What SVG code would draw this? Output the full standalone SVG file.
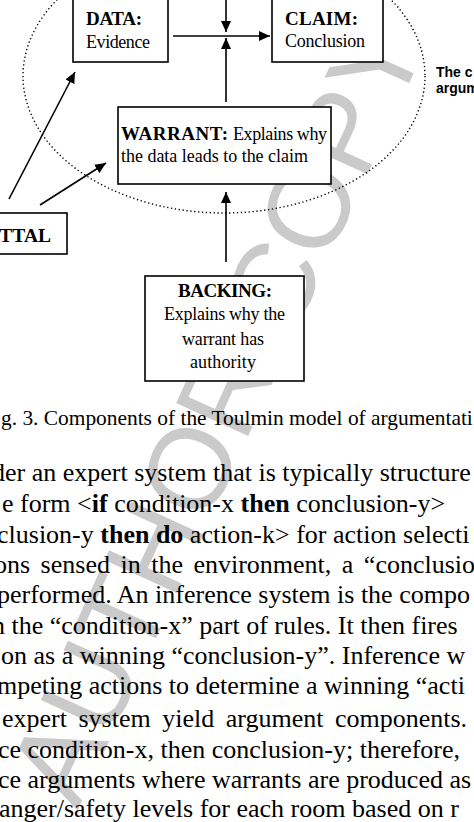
<svg xmlns="http://www.w3.org/2000/svg" width="474" height="822" viewBox="0 0 474 822">
<defs>
<marker id="ah" markerWidth="12" markerHeight="10" refX="11" refY="5" orient="auto" markerUnits="userSpaceOnUse">
<path d="M0,0 L11,5 L0,10 z" fill="#000"/>
</marker>
</defs>
<style>
.box{fill:#fff;stroke:#000;stroke-width:1.6}
.lbl{font-family:"Liberation Serif",serif;font-size:18px;fill:#000}
.b{font-weight:bold;font-size:19px}
.con{stroke:#000;stroke-width:1.6;fill:none}
.body{font-family:"Liberation Serif",serif;font-size:26px;fill:#000}
.cap{font-family:"Liberation Serif",serif;font-size:21.4px;fill:#000}
.side{font-family:"Liberation Sans",Arial,sans-serif;font-size:14px;font-weight:bold;fill:#000}
.wm{font-family:"Liberation Sans",Arial,sans-serif;font-size:115px;fill:#cacaca}
</style>
<rect width="474" height="822" fill="#fff"/>
<g id="watermark">
<text class="wm" text-anchor="middle" transform="translate(215,410) rotate(-65.5)" dy="41">AUTHOR COPY</text>
</g>
<ellipse id="scope" cx="224" cy="76" rx="201" ry="137" fill="none" stroke="#000" stroke-width="1.4" stroke-dasharray="1.3 2.6"/>
<g id="data"><rect class="box" x="73" y="-10" width="95" height="72"/>
<text class="lbl b" x="86" y="25" textLength="56">DATA:</text>
<text class="lbl" x="86" y="48" textLength="64">Evidence</text></g>
<g id="claim"><rect class="box" x="272" y="-10" width="111" height="72"/>
<text class="lbl b" x="285" y="25" textLength="73">CLAIM:</text>
<text class="lbl" x="285" y="47" textLength="80">Conclusion</text></g>
<g id="warrant"><rect class="box" x="118" y="107" width="213" height="77"/>
<text class="lbl b" x="121" y="140" textLength="107">WARRANT:</text>
<text class="lbl" x="233" y="140" textLength="94">Explains why</text>
<text class="lbl" x="121" y="162" textLength="187">the data leads to the claim</text></g>
<g id="rebuttal"><rect class="box" x="-20" y="213" width="87" height="41"/>
<text class="lbl b" x="51" y="242" text-anchor="end" style="font-size:19.5px">REBUTTAL</text></g>
<g id="backing"><rect class="box" x="145" y="276" width="159" height="105"/>
<text class="lbl b" x="178" y="297" textLength="94">BACKING:</text>
<text class="lbl" x="164" y="320" textLength="121">Explains why the</text>
<text class="lbl" x="182" y="345" textLength="82">warrant has</text>
<text class="lbl" x="190" y="368" textLength="66">authority</text></g>
<g id="connectors">
<line class="con" x1="226" y1="-5" x2="226" y2="32" marker-end="url(#ah)"/>
<line class="con" x1="173" y1="36" x2="270" y2="36" marker-end="url(#ah)"/>
<line class="con" x1="226" y1="102" x2="226" y2="38" marker-end="url(#ah)"/>
<line class="con" x1="226" y1="262" x2="226" y2="192" marker-end="url(#ah)"/>
<line class="con" x1="9" y1="199" x2="75" y2="72" marker-end="url(#ah)"/>
<line class="con" x1="40" y1="205" x2="106" y2="163" marker-end="url(#ah)"/>
</g>
<g id="side-note">
<text class="side" x="436" y="77">The c</text>
<text class="side" x="436" y="93">argum</text>
</g>
<g id="caption">
<text class="cap" x="1" y="425">g. 3. Components of the Toulmin model of argumentati</text>
</g>
<g id="body">
<text class="body" x="-8" y="481">der an expert system that is typically structure</text>
<text class="body" x="2" y="512">e form &lt;<tspan font-weight="bold">if</tspan> condition-x <tspan font-weight="bold">then</tspan> conclusion-y&gt;</text>
<text class="body" x="-3" y="543">clusion-y <tspan font-weight="bold">then do</tspan> action-k&gt; for action selecti</text>
<text class="body" x="-6" y="573" word-spacing="4">ons sensed in the environment, a “conclusio</text>
<text class="body" x="-3" y="603">performed. An inference system is the compo</text>
<text class="body" x="-8" y="634">n the “condition-x” part of rules. It then fires</text>
<text class="body" x="1" y="664">on as a winning “conclusion-y”. Inference w</text>
<text class="body" x="-3" y="694">mpeting actions to determine a winning “acti</text>
<text class="body" x="2" y="727" word-spacing="5">expert system yield argument components.</text>
<text class="body" x="-2" y="758">ce condition-x, then conclusion-y; therefore,</text>
<text class="body" x="-2" y="788">ce arguments where warrants are produced as</text>
<text class="body" x="-1" y="817">anger/safety levels for each room based on r</text>
</g>
</svg>
